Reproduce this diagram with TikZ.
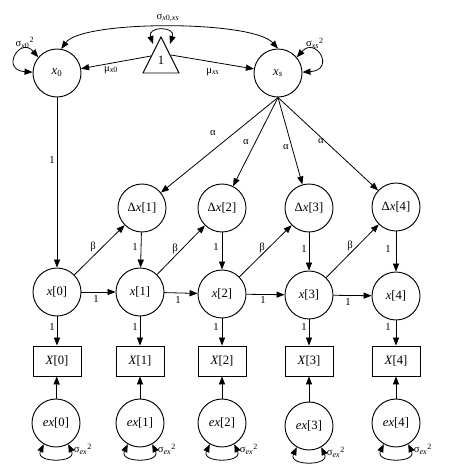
\documentclass[tikz,border=0pt]{standalone}
\usepackage{fontspec}
\setmainfont{Liberation Serif}
\usetikzlibrary{arrows.meta}
\begin{document}
\begin{tikzpicture}[x=0.75pt,y=-0.75pt,
  lat/.style={circle,draw,line width=0.7pt,minimum size=36pt,inner sep=0pt,font=\fontsize{9.5}{11}\selectfont},
  obs/.style={rectangle,draw,line width=0.7pt,minimum width=36pt,minimum height=22.5pt,inner sep=0pt,font=\fontsize{9.5}{11}\selectfont},
  tip/.tip={Triangle[length=6pt,width=4.6pt]},
  arr/.style={line width=0.6pt,-tip},
  darr/.style={line width=0.6pt,tip-tip},
  lab/.style={font=\fontsize{8}{9}\selectfont,inner sep=0.5pt}
]
\useasboundingbox (0,0) rectangle (453,475);

% top latent nodes
\node[lat] (x0) at (57,73) {\textit{x}\textsubscript{0}};
\node[lat] (xs) at (278,73) {\textit{x}\textsubscript{\textit{s}}};

% triangle
\coordinate (ta) at (161,37);
\coordinate (tb) at (143,73);
\coordinate (tc) at (179,73);
\draw[line width=0.7pt] (ta) -- (tb) -- (tc) -- cycle;
\node[font=\fontsize{9.5}{11}\selectfont] (one) at (161,60) {1};
\coordinate (tl) at (151,56);
\coordinate (tr) at (171,55);
\coordinate (tll) at (153,44);
\coordinate (trr) at (170,44);

% delta nodes
\node[lat] (dx1) at (142,208) {Δ\textit{x}[1]};
\node[lat] (dx2) at (222,208) {Δ\textit{x}[2]};
\node[lat] (dx3) at (309,208) {Δ\textit{x}[3]};
\node[lat] (dx4) at (396,207) {Δ\textit{x}[4]};

% x nodes
\node[lat] (n0) at (57,292) {\textit{x}[0]};
\node[lat] (n1) at (140,292) {\textit{x}[1]};
\node[lat] (n2) at (222,294) {\textit{x}[2]};
\node[lat] (n3) at (309,295) {\textit{x}[3]};
\node[lat] (n4) at (396,296) {\textit{x}[4]};

% observed
\node[obs] (X0) at (57,361) {\textit{X}[0]};
\node[obs] (X1) at (140,361) {\textit{X}[1]};
\node[obs] (X2) at (222,361) {\textit{X}[2]};
\node[obs] (X3) at (309,361) {\textit{X}[3]};
\node[obs] (X4) at (396,361) {\textit{X}[4]};

% errors
\node[lat] (e0) at (56,423) {\textit{ex}[0]};
\node[lat] (e1) at (140,423) {\textit{ex}[1]};
\node[lat] (e2) at (222,423) {\textit{ex}[2]};
\node[lat] (e3) at (309,426) {\textit{ex}[3]};
\node[lat] (e4) at (396,423) {\textit{ex}[4]};

% covariance arc
\draw[darr] (x0.80) .. controls (82,20) and (252,20) .. (xs.90);
\node[lab] (scov) at (168,18) {σ\textsubscript{\textit{x}0,\textit{xs}}};

% variance loops
\draw[darr] (x0.140) .. controls (20,36) and (0,70) .. (x0.178);
\node[lab] (sx0) at (25,43) {σ\textsubscript{\textit{x}0}\textsuperscript{2}};
\draw[darr] (xs.40) .. controls (316,36) and (336,70) .. (xs.2);
\node[lab] (sxs) at (315,43) {σ\textsubscript{\textit{xs}}\textsuperscript{2}};
\draw[darr] (tll) .. controls (147,26) and (176,26) .. (trr);

% means
\draw[arr] (tl) -- (x0);
\node[lab] (mx0) at (111,70) {μ\textsubscript{\textit{x}0}};
\draw[arr] (tr) -- (xs);
\node[lab] (mxs) at (213,72) {μ\textsubscript{\textit{xs}}};

% x0 -> x[0]
\draw[arr] (x0) -- (n0);
\node[lab] (l0) at (52,160) {1};

% alpha paths
\draw[arr] (xs.south) -- (dx1);
\draw[arr] (xs.south) -- (dx2);
\draw[arr] (xs.south) -- (dx3);
\draw[arr] (xs.south) -- (dx4);
\node[lab] (a1) at (213,133) {α};
\node[lab] (a2) at (246,142) {α};
\node[lab] (a3) at (286,147) {α};
\node[lab] (a4) at (321,141) {α};

% delta -> x
\draw[arr] (dx1) -- (n1);
\draw[arr] (dx2) -- (n2);
\draw[arr] (dx3) -- (n3);
\draw[arr] (dx4) -- (n4);
\node[lab] (d1) at (135,247) {1};
\node[lab] (d2) at (216,247) {1};
\node[lab] (d3) at (304,249) {1};
\node[lab] (d4) at (388,249) {1};

% beta paths
\draw[arr] (n0) -- (dx1);
\draw[arr] (n1) -- (dx2);
\draw[arr] (n2) -- (dx3);
\draw[arr] (n3) -- (dx4);
\node[lab] (b1) at (93,247) {β};
\node[lab] (b2) at (175,249) {β};
\node[lab] (b3) at (262,248) {β};
\node[lab] (b4) at (350,246) {β};

% autoregressive
\draw[arr] (n0) -- (n1);
\draw[arr] (n1) -- (n2);
\draw[arr] (n2) -- (n3);
\draw[arr] (n3) -- (n4);
\node[lab] (h1) at (96,299) {1};
\node[lab] (h2) at (178,300) {1};
\node[lab] (h3) at (263,300) {1};
\node[lab] (h4) at (348,302) {1};

% x -> X
\foreach \i/\lx in {0/52,1/135,2/216,3/304,4/388}{
  \draw[arr] (n\i) -- (X\i);
  \node[lab] (m\i) at (\lx,327) {1};
  \draw[arr] (e\i) -- (X\i);
  \draw[darr] (e\i.240) .. controls ([shift={(-9,19)}]e\i.240) and ([shift={(9,19)}]e\i.300) .. (e\i.300);
  \node[lab,anchor=west] (se\i) at ([shift={(17,26)}]e\i.center) {σ\textsubscript{\textit{ex}}\textsuperscript{2}};
}
\end{tikzpicture}
\end{document}
